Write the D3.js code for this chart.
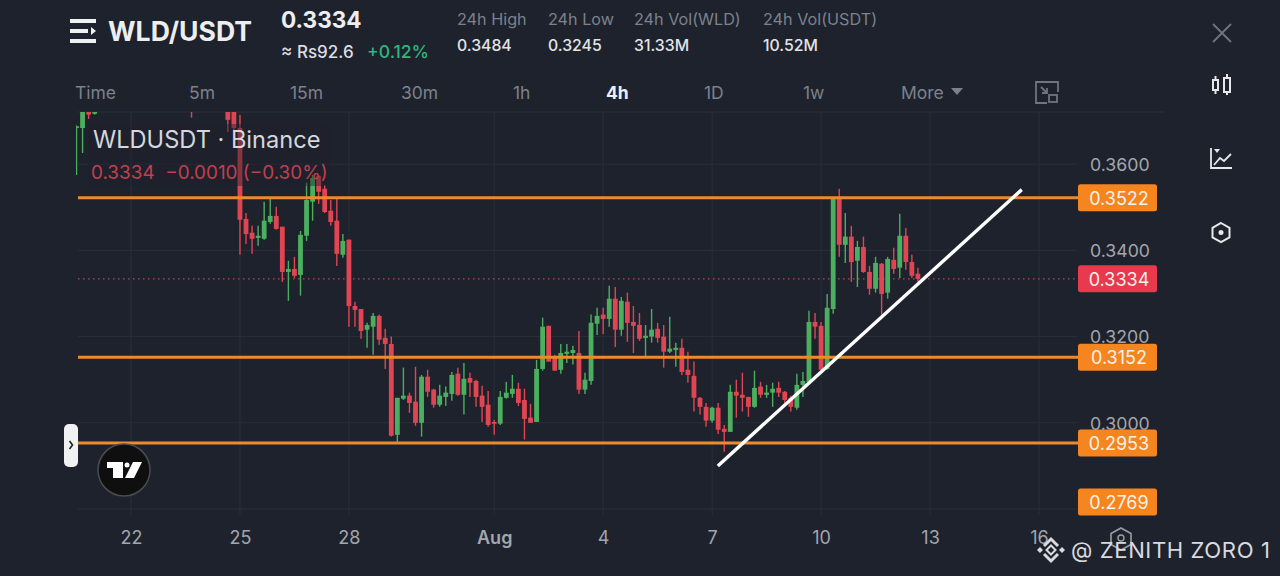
<!DOCTYPE html>
<html><head><meta charset="utf-8">
<script src="https://cdn.jsdelivr.net/npm/d3@7"></script>
<style>html,body{margin:0;padding:0;background:#1e222d;overflow:hidden}svg{display:block}text{font-family:Inter,"Noto Sans",sans-serif}</style>
</head><body><svg id="c" width="1280" height="576"></svg>
<script>
// Candle slots: 4-hour steps counted from 25 Jul 00:00
const slots = [-27,-26,-25,-24,-8,-2,-1].concat(d3.range(0,113));
const opens = [.3684,.3684,.3760,.3717,.3770,.3760,.3760,.3684,
.3473,.3441,.3429,.3427,.3466,.3480,.3455,.3350,.3357,.3343,.3434,.3513,.3573,.3543,.3492,.3469,.3390,.3425,.3271,.3264,.3216,.3223,.3248,.3197,.3183,.2972,.3056,.3063,.3049,.3000,.3107,.3077,.3042,.3060,.3067,.3114,.3065,.3104,.3097,.3063,.3042,.3002,.2998,.3058,.3067,.3079,.3053,.3012,.3002,.3125,.3225,.3153,.3123,.3160,.3162,.3162,.3077,.3097,.3230,.3251,.3241,.3288,.3216,.3281,.3234,.3227,.3197,.3200,.3218,.3200,.3165,.3169,.3174,.3123,.3109,.3058,.3037,.3005,.3035,.2986,.2979,.3072,.3065,.3060,.3037,.3084,.3065,.3070,.3081,.3072,.3058,.3035,.3088,.3095,.3234,.3225,.3125,.3264,.3522,.3413,.3432,.3376,.3408,.3350,.3311,.3369,.3302,.3378,.3360,.3434,.3373,.3346];
const highs = [.3690,.3760,.3770,.3730,.3780,.3770,.3770,.3714,
.3487,.3457,.3457,.3513,.3520,.3501,.3455,.3376,.3385,.3445,.3557,.3575,.3575,.3552,.3517,.3522,.3438,.3425,.3281,.3264,.3232,.3255,.3251,.3218,.3200,.3058,.3128,.3070,.3130,.3111,.3123,.3079,.3088,.3084,.3118,.3128,.3139,.3116,.3100,.3086,.3074,.3007,.3074,.3095,.3111,.3093,.3079,.3044,.3146,.3244,.3225,.3158,.3183,.3183,.3179,.3213,.3116,.3251,.3267,.3267,.3318,.3315,.3292,.3302,.3271,.3255,.3227,.3264,.3232,.3227,.3246,.3186,.3195,.3165,.3142,.3060,.3046,.3037,.3046,.2995,.3088,.3100,.3116,.3060,.3121,.3095,.3088,.3093,.3095,.3074,.3063,.3114,.3118,.3260,.3255,.3234,.3299,.3522,.3543,.3487,.3457,.3422,.3432,.3364,.3385,.3371,.3385,.3406,.3485,.3452,.3390,.3360];
const lows = [.3575,.3626,.3705,.3715,.3708,.3675,.3675,.3390,
.3415,.3392,.3411,.3425,.3462,.3448,.3327,.3283,.3336,.3295,.3422,.3469,.3508,.3487,.3457,.3364,.3383,.3223,.3223,.3195,.3174,.3158,.3181,.3125,.2968,.2953,.3053,.3023,.2993,.2968,.3060,.3035,.3037,.3039,.3051,.3063,.3019,.3060,.3037,.3002,.2991,.2972,.2995,.3056,.3058,.3039,.2961,.3000,.3002,.3121,.3142,.3121,.3114,.3139,.3135,.3067,.3067,.3088,.3204,.3206,.3223,.3176,.3202,.3188,.3162,.3190,.3155,.3186,.3186,.3128,.3162,.3130,.3111,.3093,.3026,.3019,.2991,.3000,.2974,.2933,.2979,.3012,.3026,.3014,.3035,.3058,.3058,.3037,.3060,.3046,.3026,.3030,.3060,.3093,.3195,.3121,.3123,.3253,.3385,.3371,.3327,.3315,.3348,.3297,.3302,.3251,.3288,.3346,.3336,.3355,.3336,.3327];
const closes = [.3688,.3745,.3715,.3725,.3760,.3703,.3684,.3471,
.3438,.3427,.3434,.3469,.3480,.3450,.3350,.3357,.3341,.3436,.3517,.3568,.3536,.3489,.3466,.3392,.3422,.3271,.3262,.3213,.3227,.3248,.3193,.3183,.2970,.3058,.3063,.3046,.3000,.3107,.3072,.3042,.3063,.3070,.3111,.3065,.3102,.3093,.3060,.3037,.2995,.2998,.3060,.3070,.3079,.3046,.3009,.3000,.3125,.3223,.3142,.3121,.3162,.3165,.3169,.3077,.3100,.3232,.3248,.3241,.3288,.3216,.3283,.3232,.3225,.3195,.3202,.3216,.3197,.3165,.3172,.3174,.3118,.3111,.3058,.3037,.3005,.3035,.2984,.2979,.3072,.3063,.3058,.3037,.3081,.3065,.3070,.3079,.3070,.3053,.3037,.3088,.3097,.3234,.3223,.3123,.3267,.3522,.3413,.3432,.3373,.3408,.3350,.3311,.3371,.3299,.3380,.3357,.3434,.3373,.3341,.3334];
const levels = [.3522,.3152,.2953];
const extraLabels = ["0.2769"];
const lastPrice = .3334;
const priceTicks = [.36,.34,.32,.30,.28];
const dateTicks = ["2023-07-22","2023-07-25","2023-07-28","2023-08-01","2023-08-04","2023-08-07","2023-08-10","2023-08-13","2023-08-16"];
const dateLabels = ["22","25","28","Aug","4","7","10","13","16"];
const trendSlots = [78.94,129.15];
const trendPrices = [.2900,.3541];
const tabs = ["Time","5m","15m","30m","1h","4h","1D","1w","More"];
const stats = [["24h High","0.3484"],["24h Low","0.3245"],["24h Vol(WLD)","31.33M"],["24h Vol(USDT)","10.52M"]];

const GREEN="#4caf5f",RED="#e04553",ORANGE="#ee8a2e",GRID="#2a2e39",LABEL="#f5851f";
const svg=d3.select("#c");
const t0=Date.UTC(2023,6,25),H4=4*3600e3;
const slotDate=s=>new Date(t0+s*H4);
const x=d3.scaleUtc().domain([new Date(Date.UTC(2023,6,22)),new Date(Date.UTC(2023,7,16))]).range([131,1039]);
const y=d3.scaleLinear().domain([.28,.36]).range([509,164.2]);
const L=78,R=1077,T=112,B=515;

svg.append("rect").attr("width",1280).attr("height",576).attr("fill","#1e222d");
svg.append("defs").append("clipPath").attr("id","plot").append("rect").attr("x",76).attr("y",T).attr("width",R-76).attr("height",B-T);

// grid
const g=svg.append("g");
g.append("line").attr("x1",L).attr("x2",1165).attr("y1",T).attr("y2",T).attr("stroke",GRID);
g.selectAll(".h").data(priceTicks).join("line").attr("x1",L).attr("x2",R).attr("y1",d=>y(d)).attr("y2",d=>y(d)).attr("stroke",GRID);
const tickDates=dateTicks.map(d=>new Date(d+"T00:00:00Z"));
g.selectAll(".v").data(tickDates).join("line").attr("x1",d=>x(d)).attr("x2",d=>x(d)).attr("y1",T).attr("y2",B).attr("stroke",GRID);

// last price dotted
svg.append("line").attr("x1",L).attr("x2",R).attr("y1",y(lastPrice)).attr("y2",y(lastPrice)).attr("stroke","#c8404f").attr("stroke-width",1.2).attr("stroke-dasharray","1.5 3.5");

// candles
const idx=d3.range(slots.length);
const cg=svg.append("g").attr("clip-path","url(#plot)");
const colour=i=>closes[i]>=opens[i]?GREEN:RED;
cg.selectAll(".w").data(idx).join("line")
 .attr("x1",i=>x(slotDate(slots[i]))).attr("x2",i=>x(slotDate(slots[i])))
 .attr("y1",i=>y(highs[i])).attr("y2",i=>y(lows[i])).attr("stroke",colour).attr("stroke-width",1.4);
cg.selectAll(".b").data(idx).join("rect")
 .attr("x",i=>x(slotDate(slots[i]))-2.4).attr("width",4.8)
 .attr("y",i=>Math.min(y(opens[i]),y(closes[i])))
 .attr("height",i=>Math.max(1.8,Math.abs(y(opens[i])-y(closes[i])))).attr("fill",colour);

// legend veil and text
svg.append("rect").attr("x",88).attr("y",124).attr("width",242).attr("height",62).attr("fill","#1e222d").attr("opacity",.45);
svg.append("text").attr("x",93).attr("y",148).attr("font-size",23.6).attr("fill","#d5d7dc").text("WLDUSDT · Binance");
svg.append("text").attr("x",91).attr("y",179).attr("font-size",18.9).attr("fill","#c0404e").attr("xml:space","preserve").text("0.3334  −0.0010 (−0.30%)");

// levels
svg.selectAll(".lv").data(levels).join("line").attr("x1",L).attr("x2",1080).attr("y1",d=>y(d)).attr("y2",d=>y(d)).attr("stroke",ORANGE).attr("stroke-width",3);

// trend line
const tl=d3.line().x(d=>x(slotDate(d[0]))).y(d=>y(d[1]));
svg.append("path").attr("d",tl(trendSlots.map((s,i)=>[s,trendPrices[i]]))).attr("stroke","#fff").attr("stroke-width",3.4).attr("fill","none");

// axes
const yAxis=d3.axisRight(y).tickValues(priceTicks.slice(0,4)).tickFormat(d3.format(".4f")).tickSize(0);
const ya=svg.append("g").attr("transform","translate(1090,0.6)").call(yAxis);
ya.select(".domain").remove();
ya.selectAll("text").attr("x",0).attr("font-size",17.7).attr("fill","#a3a6ae").attr("font-family","Inter,sans-serif");
const xAxis=d3.axisBottom(x).tickValues(tickDates).tickFormat((d,i)=>dateLabels[i]).tickSize(0);
const xa=svg.append("g").attr("transform","translate(0,528)").call(xAxis);
xa.select(".domain").remove();
xa.selectAll("text").attr("y",0).attr("dy","0.9em").attr("font-size",18).attr("fill","#a3a6ae").attr("font-family","Inter,sans-serif")
 .attr("font-weight",(d,i)=>dateLabels[i]==="Aug"?600:400);

// price labels
function tag(cy,txt,fill){
 svg.append("rect").attr("x",1078).attr("y",cy-13.5).attr("width",79).attr("height",27).attr("rx",2.5).attr("fill",fill);
 svg.append("text").attr("x",1119).attr("y",cy+6.7).attr("text-anchor","middle").attr("font-size",18).attr("fill","#f6f2ea").text(txt);
}
levels.forEach(v=>tag(y(v),v.toFixed(4),LABEL));
tag(502,extraLabels[0],LABEL);
tag(y(lastPrice),lastPrice.toFixed(4),"#e8394f");

// header
const T_=(xp,yp,s,size,fill,w)=>svg.append("text").attr("x",xp).attr("y",yp).attr("font-size",size).attr("fill",fill).attr("font-weight",w||400).text(s);
const menu=svg.append("g").attr("fill","#f0f1f3");
[[70,19,26,4],[70,29,18,4],[70,39,26,4]].forEach(r=>menu.append("rect").attr("x",r[0]).attr("y",r[1]).attr("width",r[2]).attr("height",r[3]));
menu.append("path").attr("d","M91 27l5 4-5 4z");
T_(108,41,"WLD/USDT",26.6,"#eceef0",650);
T_(281,28,"0.3334",22.6,"#eceef0",650);
T_(281,58,"≈ Rs92.6",17,"#dcdee2",500);
T_(367,58,"+0.12%",17.6,"#2eb67d",500);
const statX=[457,548,634,763];
stats.forEach((s,i)=>{T_(statX[i],25,s[0],16.2,"#7c818c",400);T_(statX[i],51,s[1],15.8,"#e2e4e8",500);});
const tabX=[75,189,290,401,513,606,704,803,901];
tabs.forEach((t,i)=>T_(tabX[i],99,t,17.5,t==="4h"?"#eceef0":"#7c818c",t==="4h"?650:400));
svg.append("path").attr("d","M951 88h12l-6 7z").attr("fill","#7c818c");

// toolbar icons
const ic=svg.append("g").attr("fill","none").attr("stroke","#6f7480").attr("stroke-width",1.8);
ic.append("path").attr("d","M1047 82h-11v21h11M1047 82h11v10M1041 87l6 6M1047 88v5h-5");
ic.append("rect").attr("x",1049).attr("y",95).attr("width",8).attr("height",7);
ic.append("path").attr("d","M1213 24l18 18M1231 24l-18 18");
const wi=svg.append("g").attr("fill","none").attr("stroke","#e6e8ea").attr("stroke-width",2);
wi.append("rect").attr("x",1213).attr("y",80).attr("width",5).attr("height",10);
wi.append("rect").attr("x",1224).attr("y",78).attr("width",6).attr("height",14);
wi.append("path").attr("d","M1215.5 76v4M1215.5 90v4M1227 74v4M1227 92v3");
wi.append("path").attr("d","M1211 148v20h21M1214 165l6-7 4 3 7-7").attr("stroke-width",1.8);
svg.append("path").attr("d","M1214 149h6l-3 4z").attr("fill","#e6e8ea");
wi.append("path").attr("d","M1221 223l8.5 4.8v9.6l-8.5 4.8-8.5-4.8v-9.6z");
svg.append("circle").attr("cx",1221).attr("cy",232.5).attr("r",2.5).attr("fill","#e6e8ea");

// handle and TV logo
svg.append("rect").attr("x",64).attr("y",424).attr("width",14).attr("height",43).attr("rx",5).attr("fill","#f0f1f3");
svg.append("path").attr("d","M69.5 441l3 4-3 4").attr("fill","none").attr("stroke","#222").attr("stroke-width",1.6);
svg.append("circle").attr("cx",124).attr("cy",470).attr("r",26).attr("fill","#0f0f10").attr("stroke","#4a4c52").attr("stroke-width",1.5);
svg.append("path").attr("d","M107 462h16v16h-10v-10h-6zM133 462h9l-8 16h-9z").attr("fill","#fff");
svg.append("circle").attr("cx",127).attr("cy",465).attr("r",2.5).attr("fill","#fff");

// settings hexagon and watermark
svg.append("path").attr("d","M1121 528l10 5.5v11l-10 5.5-10-5.5v-11z").attr("fill","none").attr("stroke","#9a9da5").attr("stroke-width",1.6);
svg.append("circle").attr("cx",1121).attr("cy",538).attr("r",3).attr("fill","none").attr("stroke","#9a9da5").attr("stroke-width",1.4);
const wm=svg.append("g").attr("fill","#d8dade");
[[1040,550],[1062,550]].forEach(d=>wm.append("path").attr("d",`M${d[0]} ${d[1]-3}l3 3l-3 3l-3 -3z`));
wm.append("path").attr("d","M1051 550l4.5-4.5-4.5-4.5-4.5 4.5zM1051 550").attr("transform","translate(0,4.5)").attr("fill","none").attr("stroke","#d8dade").attr("stroke-width",2);
wm.append("path").attr("d","M1044 546l7-7 7 7M1044 554l7 7 7-7").attr("fill","none").attr("stroke","#d8dade").attr("stroke-width",3);
svg.append("text").attr("x",1071).attr("y",558).attr("font-size",22.1).attr("fill","#d8dade").attr("font-family","Roboto,sans-serif").attr("letter-spacing",.6).text("@ ZENITH ZORO 1");
</script></body></html>
